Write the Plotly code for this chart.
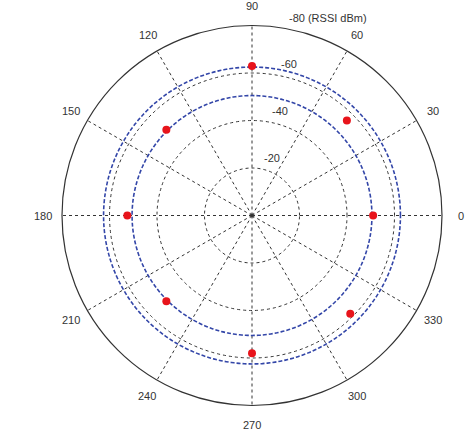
import numpy as np
import plotly.graph_objects as go

# Data
angles_deg = [0, 45, 90, 135, 180, 225, 270, 315]
rssi_dbm = [-51, -56.5, -63, -51, -52.5, -51, -58, -58.5]
ring_rssi = [-50.5, -62.5]
radial_tickvals = [20, 40, 60, 80]
radial_ticktext = ["-20", "-40", "-60", "-80 (RSSI dBm)"]
angular_tickvals = [0, 30, 60, 90, 120, 150, 180, 210, 240, 270, 300, 330]
angular_ticktext = [str(a) for a in angular_tickvals]

W, H = 474, 432
CX, CY, R = 252, 215.5, 190  # polar centre / radius in pixels
RMAX = 80

fig = go.Figure()

circle_theta = np.linspace(0, 360, 361)
for rv in ring_rssi:
    fig.add_trace(go.Scatterpolar(
        r=[-rv] * len(circle_theta), theta=circle_theta, mode="lines",
        line=dict(color="#3346a8", width=1.6, dash="4px,2px"),
        hoverinfo="skip", showlegend=False))

fig.add_trace(go.Scatterpolar(
    r=[-v for v in rssi_dbm], theta=angles_deg, mode="markers",
    marker=dict(color="#e8141b", size=8), showlegend=False))

lab_font = dict(size=11, color="#333")

# radial tick labels as horizontal texts, MATLAB style (at ~80 degrees)
lab_ang = np.deg2rad(80)
for v, t in zip(radial_tickvals, radial_ticktext):
    rad = v / RMAX * R + 11
    px = CX + rad * np.cos(lab_ang)
    py = CY - rad * np.sin(lab_ang)
    fig.add_annotation(x=px / W, y=1 - py / H, xref="paper", yref="paper",
                       text=t, showarrow=False, xanchor="left", yanchor="middle",
                       font=lab_font)

# angular tick labels outside the outer circle
for a, t in zip(angular_tickvals, angular_ticktext):
    rad = R + 19
    px = CX + rad * np.cos(np.deg2rad(a))
    py = CY - rad * np.sin(np.deg2rad(a))
    fig.add_annotation(x=px / W, y=1 - py / H, xref="paper", yref="paper",
                       text=t, showarrow=False, xanchor="center", yanchor="middle",
                       font=lab_font)

fig.update_layout(
    width=W, height=H,
    paper_bgcolor="white", plot_bgcolor="white",
    margin=dict(l=0, r=0, t=0, b=0),
    font=dict(family="Liberation Sans, Arial, sans-serif", size=11, color="#333"),
    polar=dict(
        domain=dict(x=[(CX - R) / W, (CX + R) / W],
                    y=[1 - (CY + R) / H, 1 - (CY - R) / H]),
        bgcolor="white",
        radialaxis=dict(
            range=[0, RMAX], tickvals=radial_tickvals, showticklabels=False,
            showline=False, ticks="",
            gridcolor="#333", griddash="dot", gridwidth=1),
        angularaxis=dict(
            tickvals=angular_tickvals, showticklabels=False,
            direction="counterclockwise", rotation=0,
            showline=True, linecolor="#333", linewidth=1.2,
            gridcolor="#333", griddash="dot", gridwidth=1,
            ticks=""),
    ),
)

fig.write_html("out.html",
               config={"displayModeBar": False},
               post_script="document.body.style.margin='0';document.body.style.padding='0';")
